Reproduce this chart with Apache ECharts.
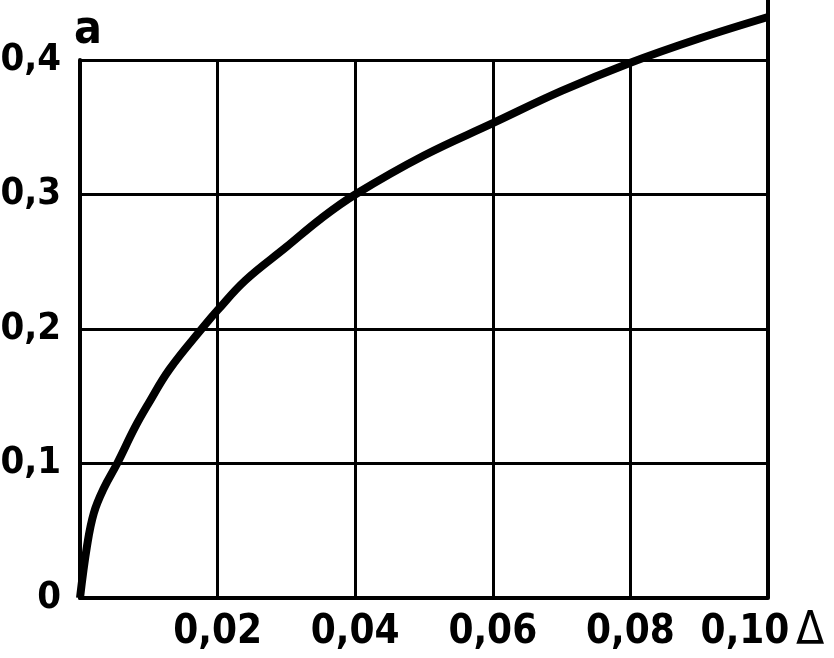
<!DOCTYPE html>
<html>
<head>
<meta charset="utf-8">
<script src="https://cdn.jsdelivr.net/npm/echarts@6/dist/echarts.min.js"></script>
<style>html,body{margin:0;padding:0;background:#fff}#c{width:834px;height:658px}</style>
</head>
<body>
<div id="c"></div>
<script>
// Data
const deltaValues = [0, 0.001, 0.002, 0.0035, 0.0054, 0.008, 0.01, 0.013, 0.018, 0.02, 0.024, 0.03, 0.035, 0.04, 0.05, 0.06, 0.07, 0.08, 0.09, 0.10];
const aValues     = [0, 0.038, 0.063, 0.082, 0.1, 0.127, 0.145, 0.17, 0.202, 0.214, 0.236, 0.261, 0.282, 0.3, 0.329, 0.353, 0.377, 0.398, 0.416, 0.432];
const xTickLabels = ['', '0,02', '0,04', '0,06', '0,08', '0,10'];
const yTickLabels = ['0', '0,1', '0,2', '0,3', '0,4'];
const xName = 'Δ';
const yName = 'a';
const frameX = [0.1, 0.1];
const frameY = [0, 0.445];

const FONT = "'Liberation Sans Narrow', 'DejaVu Sans Condensed', sans-serif";
const chart = echarts.init(document.getElementById('c'));
const points = deltaValues.map((d, i) => [d, aValues[i]]);
const framePts = frameX.map((d, i) => [d, frameY[i]]);

chart.setOption({
  animation: false,
  backgroundColor: '#fff',
  grid: { left: 80, right: 66, top: 60, bottom: 60, containLabel: false, outerBoundsMode: 'none' },
  xAxis: {
    type: 'value', min: 0, max: 0.1, interval: 0.02,
    name: xName, nameLocation: 'end', nameGap: 28, nameMoveOverlap: false,
    nameTextStyle: { color: '#000', fontSize: 46, fontFamily: FONT, fontWeight: 'normal', verticalAlign: 'top', padding: [11, 0, 0, 0] },
    axisLine: { show: true, lineStyle: { color: '#000', width: 4 } },
    axisTick: { show: false },
    splitLine: { show: true, lineStyle: { color: '#000', width: 3 } },
    axisLabel: {
      color: '#000', fontSize: 40, fontFamily: FONT, fontWeight: 'bold', margin: 15,
      showMaxLabel: true, showMinLabel: true, hideOverlap: false,
      formatter: (v) => {
        const idx = Math.round(v / 0.02);
        const t = xTickLabels[idx] || '';
        if (idx === 5) return '{last|' + t + '}';
        return t;
      },
      rich: { last: { fontSize: 40, fontFamily: FONT, fontWeight: 'bold', color: '#000', padding: [0, 46, 0, 0] } }
    }
  },
  yAxis: {
    type: 'value', min: 0, max: 0.4, interval: 0.1,
    name: yName, nameLocation: 'end', nameGap: 6, nameMoveOverlap: false,
    nameTextStyle: { color: '#000', fontSize: 46, fontFamily: FONT, fontWeight: 'bold', padding: [0, 0, 0, 16] },
    axisLine: { show: true, lineStyle: { color: '#000', width: 4 } },
    axisTick: { show: false },
    splitLine: { show: true, lineStyle: { color: '#000', width: 3 } },
    axisLabel: {
      color: '#000', fontSize: 38, fontFamily: FONT, fontWeight: 'bold', margin: 19,
      showMaxLabel: true, showMinLabel: true,
      formatter: (v) => yTickLabels[Math.round(v / 0.1)] || ''
    }
  },
  series: [{
    type: 'line',
    data: points,
    smooth: 0.4,
    clip: false,
    showSymbol: false,
    lineStyle: { color: '#000', width: 8 }
  }, {
    type: 'line',
    data: framePts,
    clip: false,
    showSymbol: false,
    silent: true,
    lineStyle: { color: '#000', width: 4 }
  }]
});
</script>
</body>
</html>
